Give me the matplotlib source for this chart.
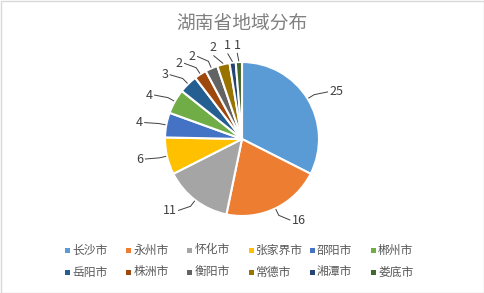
import matplotlib
matplotlib.use("Agg")
import matplotlib.pyplot as plt
import numpy as np
from matplotlib.patches import Rectangle

plt.rcParams['font.family'] = ['Noto Sans CJK SC', 'DejaVu Sans']

categories = ['长沙市', '永州市', '怀化市', '张家界市', '邵阳市', '郴州市',
              '岳阳市', '株洲市', '衡阳市', '常德市', '湘潭市', '娄底市']
values = [25, 16, 11, 6, 4, 4, 3, 2, 2, 2, 1, 1]
colors = ['#5B9BD5', '#ED7D31', '#A5A5A5', '#FFC000', '#4472C4', '#70AD47',
          '#255E91', '#9E480E', '#636363', '#997300', '#264478', '#43682B']
title = '湖南省地域分布'

W, H = 485, 293
fig = plt.figure(figsize=(W / 100, H / 100), dpi=100)
fig.patch.set_facecolor('white')
fig.patches.append(Rectangle((0.5 / W, 0.5 / H), 1 - 1.5 / W, 1 - 1.5 / H,
                             transform=fig.transFigure, fill=False,
                             edgecolor='#D9D9D9', linewidth=1.0))

cx, cy, R = 242, 139, 77
half = 110
ax = fig.add_axes([(cx - half) / W, (H - cy - half) / H, 2 * half / W, 2 * half / H])

wedges, _ = ax.pie(values, colors=colors, startangle=90, counterclock=False,
                   radius=1.0, wedgeprops=dict(edgecolor='white', linewidth=1.5))
lim = half / R
ax.set_xlim(-lim, lim)
ax.set_ylim(-lim, lim)
ax.set_aspect('equal')
ax.axis('off')

tc = '#404040'
for i, (w, v) in enumerate(zip(wedges, values)):
    deg = (w.theta1 + w.theta2) / 2
    ang = np.deg2rad(deg)
    c, s = np.cos(ang), np.sin(ang)
    shift = 0.12 * np.clip(c * 3, -1, 1)
    lx = 1.17 * c + shift
    ly = 1.17 * s
    ex, ey = 1.01 * c, 1.01 * s
    if abs(c) > 0.3:
        ha = 'left' if c > 0 else 'right'
        txt_dx = 0.02 if c > 0 else -0.02
        ax.text(lx + txt_dx, ly, str(v), ha=ha, va='center',
                fontsize=9, color=tc)
        bx, by = 1.1 * c, 1.1 * s
        ax.plot([ex, bx, lx], [ey, by, ly], color=tc, lw=0.7,
                solid_capstyle='butt')
    else:
        ax.text(lx, ly + 0.05, str(v), ha='center', va='center',
                fontsize=9, color=tc)
        ax.plot([ex, lx], [ey, ly - 0.05], color=tc, lw=0.7,
                solid_capstyle='butt')

fig.text(cx / W, 1 - 23 / H, title, ha='center', va='center', fontsize=13.5,
         color='#808080')

# legend drawn on a grid like the reference
for i, (name, col) in enumerate(zip(categories, colors)):
    r, k = divmod(i, 6)
    mx = 65 + 61.2 * k
    my = 250 + 22 * r
    fig.patches.append(Rectangle((mx / W, 1 - (my + 2.5) / H), 5 / W, 5 / H,
                                 transform=fig.transFigure, facecolor=col,
                                 edgecolor='none'))
    fig.text((mx + 7) / W, 1 - my / H, name, ha='left', va='center',
             fontsize=8.5, color='#595959')

fig.savefig('out.png', dpi=100, facecolor='white')
